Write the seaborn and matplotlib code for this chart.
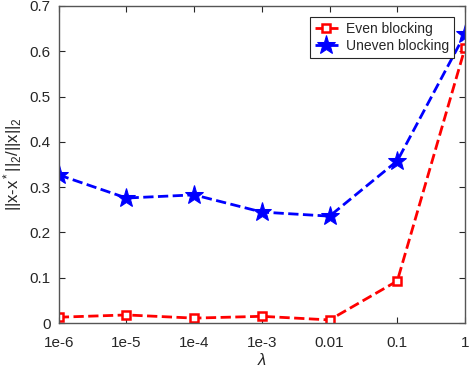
import numpy as np
import pandas as pd
import matplotlib
matplotlib.use("Agg")
import matplotlib.pyplot as plt
import seaborn as sns

# dados
lambdas = ["1e-6", "1e-5", "1e-4", "1e-3", "0.01", "0.1", "1"]
even_blocking = [0.013, 0.018, 0.011, 0.015, 0.007, 0.093, 0.607]
uneven_blocking = [0.327, 0.276, 0.283, 0.245, 0.236, 0.358, 0.638]

sns.set_style("white")
plt.rcParams['font.family'] = ['Liberation Sans', 'DejaVu Sans']
plt.rcParams['mathtext.fontset'] = 'custom'
plt.rcParams['mathtext.rm'] = 'Liberation Sans'
plt.rcParams['mathtext.it'] = 'Liberation Sans:italic'

pos = np.arange(len(lambdas))
df = pd.DataFrame({"pos": pos, "even": even_blocking, "uneven": uneven_blocking})

fig = plt.figure(figsize=(4.74, 3.68), dpi=100)
ax = fig.add_axes([0.124, 0.122, 0.857, 0.862])

sns.lineplot(data=df, x="pos", y="even", ax=ax, color="#ff0000", linestyle="--",
             linewidth=2, marker="s", markersize=6, markerfacecolor="white",
             markeredgecolor="#ff0000", markeredgewidth=1.8, label="Even blocking")
sns.lineplot(data=df, x="pos", y="uneven", ax=ax, color="#0000ff", linestyle="--",
             linewidth=2, marker="*", markersize=14, markerfacecolor="#0000ff",
             markeredgecolor="#0000ff", label="Uneven blocking")

ax.set_xlim(0, 6)
ax.set_ylim(0, 0.7)
ax.set_xticks(pos)
ax.set_xticklabels(lambdas)
ax.set_yticks(np.arange(0, 0.71, 0.1))
ax.set_yticklabels(["0", "0.1", "0.2", "0.3", "0.4", "0.5", "0.6", "0.7"])
ax.tick_params(direction="in", length=4, labelsize=11, colors="#262626",
               top=True, right=True, bottom=True, left=True, width=0.8)
ax.tick_params(axis="x", pad=9)
ax.tick_params(axis="y", pad=6)
for s in ax.spines.values():
    s.set_color("#555555")
    s.set_linewidth(1)
    s.set_visible(True)

ax.set_xlabel(r"$\lambda$", fontsize=12, color="#262626", labelpad=2)
ax.set_ylabel(r"$||$x-x$^*||_2/||$x$||_2$", fontsize=12, color="#262626", labelpad=4)

leg = ax.legend(loc="upper right", fontsize=10, frameon=True, fancybox=False,
                edgecolor="#262626", framealpha=1, borderpad=0.35,
                handlelength=1.6, handletextpad=0.6, labelspacing=0.25,
                borderaxespad=0.8)
leg.get_frame().set_linewidth(0.8)

fig.savefig("out.png", dpi=100)
